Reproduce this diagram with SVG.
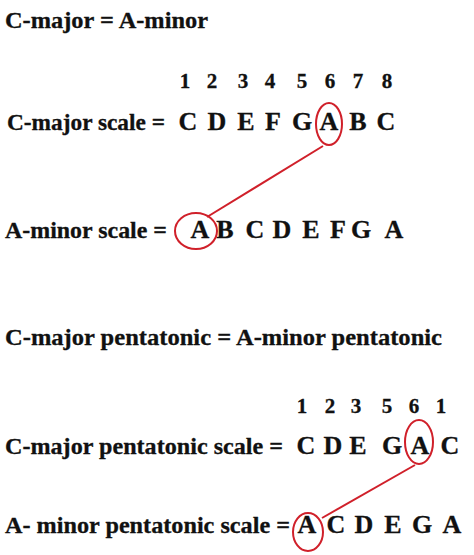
<svg xmlns="http://www.w3.org/2000/svg" width="474" height="555" viewBox="0 0 474 555" font-family="Liberation Serif, Times New Roman, serif">
<style>
text{font-family:"Liberation Serif","Times New Roman",serif;font-weight:bold;fill:#111;stroke:#111;stroke-width:0.3}
.lbl{font-size:24px}
.note{font-size:26px;text-anchor:middle}
.num{font-size:21px;text-anchor:middle}
.ring{fill:none;stroke:#d0202a;stroke-width:2}
.link{stroke:#d0202a;stroke-width:2;fill:none}
</style>
<rect width="474" height="555" fill="#fff"/>
<g id="title1"><text class="lbl" x="5" y="28" textLength="203" lengthAdjust="spacingAndGlyphs">C-major = A-minor</text></g>
<g id="nums1">
<text class="num" x="185" y="88">1</text><text class="num" x="212" y="88">2</text><text class="num" x="243" y="88">3</text><text class="num" x="270" y="88">4</text><text class="num" x="302" y="88">5</text><text class="num" x="330" y="88">6</text><text class="num" x="358" y="88">7</text><text class="num" x="387" y="88">8</text>
</g>
<g id="cmajor">
<text class="lbl" x="7" y="130" style="font-size:23.3px" textLength="158" lengthAdjust="spacingAndGlyphs">C-major scale =</text>
<text class="note" x="188" y="130">C</text><text class="note" x="217" y="130">D</text><text class="note" x="246" y="130">E</text><text class="note" x="273" y="130">F</text><text class="note" x="302" y="130">G</text><text class="note" x="329" y="130">A</text><text class="note" x="358" y="130">B</text><text class="note" x="386" y="130">C</text>
<ellipse class="ring" cx="329" cy="124" rx="13" ry="21"/>
</g>
<g id="aminor">
<text class="lbl" x="5" y="238" style="font-size:23.8px" textLength="162" lengthAdjust="spacingAndGlyphs">A-minor scale =</text>
<text class="note" x="200" y="238">A</text><text class="note" x="225" y="238">B</text><text class="note" x="255" y="238">C</text><text class="note" x="282" y="238">D</text><text class="note" x="311" y="238">E</text><text class="note" x="338" y="238">F</text><text class="note" x="361" y="238">G</text><text class="note" x="394" y="238">A</text>
<ellipse class="ring" cx="196" cy="231" rx="21" ry="18"/>
</g>
<g id="title2"><text class="lbl" x="5" y="345" textLength="437" lengthAdjust="spacingAndGlyphs">C-major pentatonic = A-minor pentatonic</text></g>
<g id="nums2">
<text class="num" x="302" y="413">1</text><text class="num" x="330" y="413">2</text><text class="num" x="356" y="413">3</text><text class="num" x="387" y="413">5</text><text class="num" x="414" y="413">6</text><text class="num" x="441" y="413">1</text>
</g>
<g id="cmajorpent">
<text class="lbl" x="5" y="454" textLength="278" lengthAdjust="spacingAndGlyphs">C-major pentatonic scale =</text>
<text class="note" x="306" y="454">C</text><text class="note" x="333" y="454">D</text><text class="note" x="358" y="454">E</text><text class="note" x="392" y="454">G</text><text class="note" x="420" y="454">A</text><text class="note" x="450" y="454">C</text>
<ellipse class="ring" cx="419" cy="442" rx="14" ry="22"/>
</g>
<g id="aminorpent">
<text class="lbl" x="5" y="533" textLength="285" lengthAdjust="spacingAndGlyphs">A- minor pentatonic scale =</text>
<text class="note" x="307" y="533">A</text><text class="note" x="336" y="533">C</text><text class="note" x="364" y="533">D</text><text class="note" x="393" y="533">E</text><text class="note" x="422" y="533">G</text><text class="note" x="452" y="533">A</text>
<ellipse class="ring" cx="308" cy="532" rx="15" ry="19"/>
</g>
<g id="connectors">
<line class="link" x1="323" y1="146" x2="207" y2="217"/>
<line class="link" x1="415" y1="465" x2="322" y2="518"/>
</g>
</svg>
